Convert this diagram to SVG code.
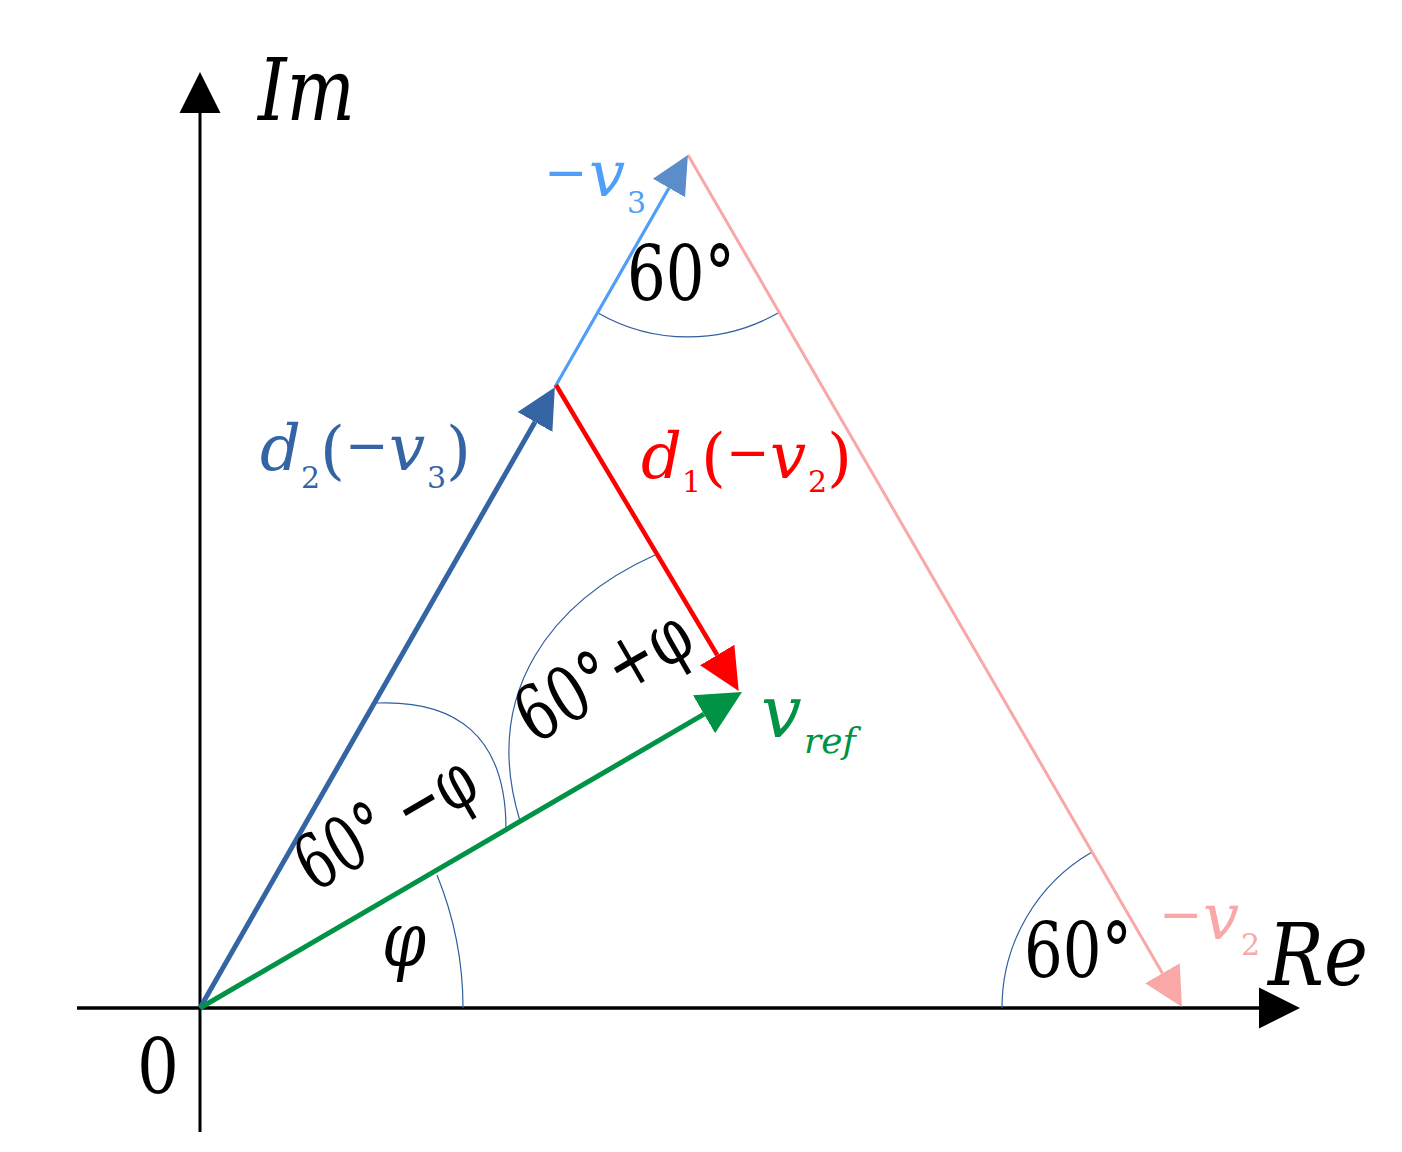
<svg xmlns="http://www.w3.org/2000/svg" width="1402" height="1152" viewBox="0 0 1402 1152">
<style>
  .it { font-style: italic; }
  .arc { fill: none; stroke: #2f5f9f; stroke-width: 1.2; }
  .lbl { font-size: 76px; fill: #000; }
  .m { font-size: 64px; }
  .s { font-size: 30px; }
  .mn { font-size: 52px; }
</style>
<defs>
  <marker id="mAx" markerUnits="userSpaceOnUse" viewBox="0 -22 44 44" refX="0" refY="0" markerWidth="44" markerHeight="44" orient="auto">
    <path d="M0,-20.5 L41,0 L0,20.5 Z" fill="#000"/>
  </marker>
  <marker id="mDb" markerUnits="userSpaceOnUse" viewBox="0 -22 44 44" refX="0" refY="0" markerWidth="44" markerHeight="44" orient="auto">
    <path d="M0,-20 L40,0 L0,20 Z" fill="#3464a3"/>
  </marker>
  <marker id="mLb" markerUnits="userSpaceOnUse" viewBox="0 -22 44 44" refX="0" refY="0" markerWidth="44" markerHeight="44" orient="auto">
    <path d="M0,-18.5 L38,0 L0,18.5 Z" fill="#5b8dcb"/>
  </marker>
  <marker id="mRd" markerUnits="userSpaceOnUse" viewBox="0 -22 44 44" refX="0" refY="0" markerWidth="44" markerHeight="44" orient="auto">
    <path d="M0,-20 L42,0 L0,20 Z" fill="#ff0000"/>
  </marker>
  <marker id="mGr" markerUnits="userSpaceOnUse" viewBox="0 -23 46 46" refX="0" refY="0" markerWidth="46" markerHeight="46" orient="auto">
    <path d="M0,-22 L44,0 L0,22 Z" fill="#009245"/>
  </marker>
  <marker id="mPk" markerUnits="userSpaceOnUse" viewBox="0 -22 44 44" refX="0" refY="0" markerWidth="44" markerHeight="44" orient="auto">
    <path d="M0,-20 L39,0 L0,20 Z" fill="#f9a7a7"/>
  </marker>
</defs>

<g font-family="'DejaVu Serif', serif">
<g id="axes">
  <line x1="200" y1="1132" x2="200" y2="113" stroke="#000" stroke-width="3" marker-end="url(#mAx)"/>
  <line x1="77" y1="1008" x2="1259" y2="1008" stroke="#000" stroke-width="3.5" marker-end="url(#mAx)"/>
  <text class="it" x="258" y="120" font-size="86" textLength="97" lengthAdjust="spacingAndGlyphs">Im</text>
  <text class="it" x="1268" y="985" font-size="86" textLength="100" lengthAdjust="spacingAndGlyphs">Re</text>
  <text x="137" y="1093" font-size="76" textLength="42" lengthAdjust="spacingAndGlyphs">0</text>
</g>

<g id="arcs">
  <path class="arc" d="M598,313 A181,181 0 0 0 778,313"/>
  <path class="arc" d="M1002,1008 A180,180 0 0 1 1092,852"/>
  <path class="arc" d="M463,1008 A353,353 0 0 0 437,875"/>
  <path class="arc" d="M377,703 C455,700 506,735 506,829"/>
  <path class="arc" d="M655,555 C555,600 480,690 520,821"/>
</g>

<g id="connectors">
  <line x1="688" y1="155" x2="1162.4" y2="973.3" stroke="#f9a7a7" stroke-width="3" marker-end="url(#mPk)"/>
  <line x1="555" y1="387" x2="669" y2="188" stroke="#4f9ef7" stroke-width="3.2" marker-end="url(#mLb)"/>
  <line x1="200" y1="1008" x2="535" y2="422" stroke="#3464a3" stroke-width="5" marker-end="url(#mDb)"/>
  <line x1="556" y1="385" x2="717.2" y2="655" stroke="#ff0000" stroke-width="4.5" marker-end="url(#mRd)"/>
  <line x1="200" y1="1008" x2="704" y2="714.2" stroke="#009245" stroke-width="5" marker-end="url(#mGr)"/>
</g>

<g id="label-neg-v3">
  <text class="m" fill="#4f9ef7"><tspan class="mn" x="544" y="190">−</tspan><tspan class="it" x="589" y="196">v</tspan><tspan class="s" x="627" y="213">3</tspan></text>
</g>

<g id="label-neg-v2">
  <text class="m" fill="#f9a7a7"><tspan class="mn" x="1159" y="932">−</tspan><tspan class="it" x="1203" y="939">v</tspan><tspan class="s" x="1241" y="955">2</tspan></text>
</g>

<g id="label-d2">
  <text class="m" fill="#3464a3"><tspan class="it" x="260" y="470">d</tspan><tspan class="s" x="301" y="488">2</tspan><tspan x="320" y="472">(</tspan><tspan class="mn" x="345" y="463">−</tspan><tspan class="it" x="389" y="470">v</tspan><tspan class="s" x="427" y="488">3</tspan><tspan x="446" y="472">)</tspan></text>
</g>

<g id="label-d1">
  <text class="m" fill="#ff0000"><tspan class="it" x="641" y="478">d</tspan><tspan class="s" x="682" y="492">1</tspan><tspan x="701" y="479">(</tspan><tspan class="mn" x="726" y="470">−</tspan><tspan class="it" x="770" y="478">v</tspan><tspan class="s" x="808" y="492">2</tspan><tspan x="827" y="479">)</tspan></text>
</g>

<g id="label-vref">
  <text class="it" fill="#009245" font-size="72"><tspan x="761" y="737">v</tspan><tspan x="804" y="753" font-size="36">ref</tspan></text>
</g>

<g id="angle-labels">
  <text class="lbl" x="627" y="300" textLength="108" lengthAdjust="spacingAndGlyphs">60°</text>
  <text class="lbl" x="1024" y="977" textLength="108" lengthAdjust="spacingAndGlyphs">60°</text>
  <text class="lbl it" x="382" y="966" font-size="74" textLength="44" lengthAdjust="spacingAndGlyphs">φ</text>
  <text class="lbl" transform="translate(314,893) rotate(-30)" textLength="195" lengthAdjust="spacingAndGlyphs">60° −φ</text>
  <text class="lbl" transform="translate(534,745) rotate(-30)" textLength="190" lengthAdjust="spacingAndGlyphs">60°+φ</text>
</g>
</g>
</svg>
